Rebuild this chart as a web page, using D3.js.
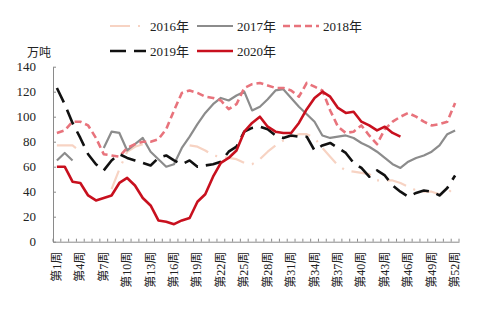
<!DOCTYPE html>
<html>
<head>
<meta charset="utf-8">
<script src="https://cdn.jsdelivr.net/npm/d3@7"></script>
<style>
  body { margin: 0; background: #fff; }
  svg { display: block; }
  text { font-family: "Liberation Serif", "Noto Sans CJK SC", serif; fill: #222; }
</style>
</head>
<body>
<div id="chart"></div>
<script>
// weekly categories (第1周 ... 第52周)
const weeks = d3.range(1, 53);
const labelWeeks = [1, 4, 7, 10, 13, 16, 19, 22, 25, 28, 31, 34, 37, 40, 43, 46, 49, 52];
const yTicks = [0, 20, 40, 60, 80, 100, 120, 140];

// series values, 万吨 (null = no data)
const s2016 = [77, 77, 77, 72, null, null, null, 42, 58, 72, 76, 78, null, null, null, null, null, 77, 76, 73,
               69, 68, 67, 66, 63, 62, 66, 72, 77, 81, 84, 86, 86, 83, 75, 68, 61, 57, 56, 55,
               54, 49, 49, 49, 47, 44, 41, 40, 40, 38, 38, 45];
const s2017 = [65, 71, 65, null, null, null, 75, 88, 87, 73, 78, 83, 72, 66, 60, 62, 75, 84, 94, 103,
               110, 115, 113, 117, 120, 105, 108, 114, 121, 122, 115, 108, 102, 96, 85, 83, 84, 85, 83, 79,
               76, 72, 67, 62, 59, 64, 67, 69, 72, 77, 86, 89];
const s2018 = [87, 89, 96, 96, 93, 83, 70, 69, 68, 75, 78, 80, 80, 82, 90, 105, 119, 121, 119, 116,
               115, 113, 106, 110, 123, 126, 127, 125, 123, 123, 121, 116, 127, 124, 121, 105, 92, 87, 88, 93,
               85, 78, 90, 96, 100, 103, 100, 96, 93, 94, 96, 111];
const s2019 = [123, 110, 95, 83, 70, 62, 57, 65, 70, 67, 65, 63, 61, 67, 69, 65, 62, 65, 60, 61,
               62, 64, 72, 76, 88, 91, 92, 90, 85, 83, 85, 84, 84, 73, 77, 79, 75, 71, 63, 59,
               52, 57, 53, 45, 40, 36, 39, 41, 40, 37, 43, 53];
const s2020 = [60, 60, 48, 47, 37, 33, 35, 37, 47, 51, 45, 35, 29, 17, 16, 14, 17, 19, 32, 38,
               52, 63, 67, 73, 88, 95, 100, 92, 88, 87, 87, 95, 106, 115, 120, 116, 107, 103, 104, 96,
               93, 89, 92, 87, 84];

const series = [
    { name: '2016年', values: s2016, color: '#f7d3c3', width: 2.2, dash: '20,8,2,8' },
    { name: '2017年', values: s2017, color: '#8c8c8c', width: 2.2, dash: null },
    { name: '2018年', values: s2018, color: '#e8737c', width: 2.6, dash: '7,4' },
    { name: '2019年', values: s2019, color: '#111111', width: 2.6, dash: '16,8' },
    { name: '2020年', values: s2020, color: '#c8101e', width: 2.6, dash: null }
];

const W = 486, H = 310;
const plotLeft = 53, plotRight = 459, plotTop = 66.7, plotBottom = 241.7;

const svg = d3.select('#chart').append('svg')
    .attr('width', W)
    .attr('height', H);

const x = d3.scaleBand()
    .domain(weeks)
    .range([plotLeft, plotRight]);

const y = d3.scaleLinear()
    .domain([0, 140])
    .range([plotBottom, plotTop]);

const cx = w => x(w) + x.bandwidth() / 2;

// Y axis
const yAxis = svg.append('g')
    .attr('transform', `translate(${plotLeft},0)`)
    .call(d3.axisLeft(y).tickValues(yTicks).tickSizeInner(-3).tickSizeOuter(0).tickPadding(17));
yAxis.select('.domain').attr('stroke', '#8a8a8a');
yAxis.selectAll('.tick line').attr('stroke', '#8a8a8a');
yAxis.selectAll('.tick text')
    .style('font-size', '13px')
    .style('fill', '#222');

svg.append('text')
    .attr('x', 39)
    .attr('y', 57)
    .attr('text-anchor', 'middle')
    .style('font-size', '12px')
    .text('万吨');

// X axis, a tick per week, label every third week
const xAxis = svg.append('g')
    .attr('transform', `translate(0,${plotBottom})`)
    .call(d3.axisBottom(x).tickSizeInner(0).tickSizeOuter(0).tickFormat(''));
xAxis.select('.domain').attr('stroke', '#8a8a8a');
xAxis.selectAll('.tick').remove();

svg.append('g')
    .selectAll('line')
    .data(weeks.concat([53]))
    .enter().append('line')
    .attr('x1', w => w === 53 ? plotRight : x(w))
    .attr('x2', w => w === 53 ? plotRight : x(w))
    .attr('y1', plotBottom)
    .attr('y2', plotBottom - 3)
    .attr('stroke', '#8a8a8a');

svg.append('g')
    .selectAll('text')
    .data(labelWeeks)
    .enter().append('text')
    .attr('transform', w => `translate(${cx(w) + 4},${plotBottom + 10}) rotate(-90)`)
    .attr('text-anchor', 'end')
    .style('font-size', '12px')
    .text(w => `第${w}周`);

// Lines
const line = d3.line()
    .defined(d => d.v !== null)
    .x(d => cx(d.w))
    .y(d => y(d.v));

svg.append('g')
    .selectAll('path')
    .data(series)
    .enter().append('path')
    .attr('fill', 'none')
    .attr('stroke', d => d.color)
    .attr('stroke-width', d => d.width)
    .attr('stroke-dasharray', d => d.dash)
    .attr('stroke-linejoin', 'round')
    .attr('d', d => line(d.values.map((v, i) => ({ w: weeks[i], v: v }))));

// Legend
const legendPos = [
    { x: 110, y: 26 }, { x: 197, y: 26 }, { x: 283, y: 26 },
    { x: 110, y: 51 }, { x: 197, y: 51 }
];

const legend = svg.append('g')
    .selectAll('g')
    .data(series)
    .enter().append('g')
    .attr('transform', (d, i) => `translate(${legendPos[i].x},${legendPos[i].y})`);

legend.append('line')
    .attr('x1', 0)
    .attr('x2', 36)
    .attr('stroke', d => d.color)
    .attr('stroke-width', d => d.width)
    .attr('stroke-dasharray', d => d.dash);

legend.append('text')
    .attr('x', 40)
    .attr('dy', '0.35em')
    .style('font-size', '13px')
    .text(d => d.name);
</script>
</body>
</html>
